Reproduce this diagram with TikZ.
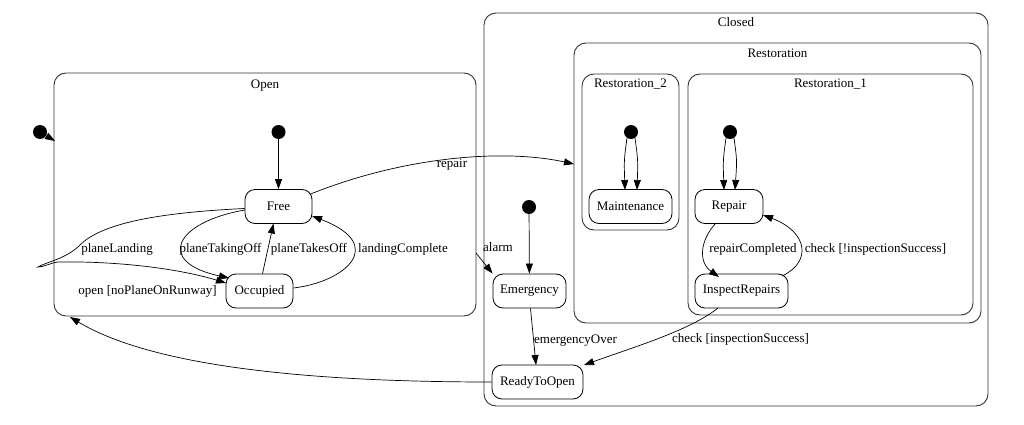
\documentclass[tikz,border=0pt]{standalone}
\usepackage{fontspec}
\setmainfont{Liberation Serif}
\usetikzlibrary{arrows.meta}
\begin{document}
\begin{tikzpicture}[x=1pt,y=-1pt,
  font=\fontsize{13}{15}\selectfont,
  state/.style={draw, rounded corners=10pt, minimum height=34pt, inner sep=0pt, line width=0.8pt},
  cluster/.style={draw, black!80, rounded corners=12pt, line width=0.9pt, inner sep=0pt},
  initdot/.style={circle, fill, inner sep=0pt, minimum size=14pt},
  lbl/.style={inner sep=0pt, text height=9pt, text depth=3pt},
  arr/.style={-{Triangle[length=10pt,width=7pt]}, line width=0.7pt}]
\useasboundingbox (0,0) rectangle (1024,425);

% clusters
\node[cluster, minimum width=422pt, minimum height=243pt] (open) at (265,194.5) {};
\node[cluster, minimum width=504pt, minimum height=393pt] (closed) at (736,209.5) {};
\node[cluster, minimum width=407pt, minimum height=280pt] (restoration) at (777.5,183) {};
\node[cluster, minimum width=97pt, minimum height=156pt] (rtwo) at (630.5,152) {};
\node[cluster, minimum width=285pt, minimum height=241pt] (rone) at (830.5,194.5) {};

\node[lbl] (openT) at (265,86) {Open};
\node[lbl] (closedT) at (736,24) {Closed};
\node[lbl] (restT) at (777.5,55) {Restoration};
\node[lbl] (rtwoT) at (630.5,85) {Restoration\_2};
\node[lbl] (roneT) at (830.5,85) {Restoration\_1};

% initial dots
\node[initdot] (init0) at (40,132) {};
\node[initdot] (initOpen) at (278.5,132) {};
\node[initdot] (initClosed) at (529,207) {};
\node[initdot] (initR2) at (631,132) {};
\node[initdot] (initR1) at (730,132) {};

% states
\node[state, minimum width=67pt] (free) at (278.5,206.5) {Free};
\node[state, minimum width=67pt] (occupied) at (259.5,291) {Occupied};
\node[state, minimum width=73pt] (emergency) at (529.5,291) {Emergency};
\node[state, minimum width=91pt] (ready) at (537.5,382) {ReadyToOpen};
\node[state, minimum width=83pt] (maint) at (630.5,206.5) {Maintenance};
\node[state, minimum width=68pt] (repair) at (729,206.5) {Repair};
\node[state, minimum width=93pt] (inspect) at (741.5,291) {InspectRepairs};

% cluster boundary points
\coordinate (openEntry) at (55,141);
\coordinate (openReturn) at (70,317);
\coordinate (alarmStart) at (476,253);
\coordinate (restEntry) at (574,164);

% edges
\draw[arr] (init0) -- (openEntry);
\draw[arr] (initOpen) -- (free);
\draw[arr] (free.west) ++(0,2) .. controls (150,213) and (100,225) .. (80,245)
   .. controls (66,259) and (46,262) .. (38,267)
   .. controls (44,267) and (50,263) .. (58,262)
   .. controls (120,261) and (180,269) .. (226,283);
\draw[arr] (245,210) .. controls (175,222) and (155,262) .. (229,278);
\draw[arr] (occupied.north) ++(3,0) -- (273.5,223.5);
\draw[arr] (occupied.east) ++(0,-3) .. controls (345,282) and (388,245) .. (312,216);
\draw[arr] (free.north east) ++(-2,5) .. controls (400,158) and (500,148) .. (restEntry);
\draw[arr] (alarmStart) -- (emergency.north west);
\draw[arr] (initClosed) -- (emergency);
\draw[arr] (emergency.south) ++(1,0) -- (536,365);
\draw[arr] (initR2) ++(-4,6) .. controls (624,160) .. (625,190);
\draw[arr] (initR2) ++(4,6) .. controls (638,160) .. (637,190);
\draw[arr] (initR1) ++(-4,6) .. controls (723,160) .. (724,190);
\draw[arr] (initR1) ++(4,6) .. controls (737,160) .. (735,190);
\draw[arr] (716,223) .. controls (700,240) and (698,262) .. (719,277);
\draw[arr] (782,276) .. controls (812,262) and (808,232) .. (763,215);
\draw[arr] (718,308) .. controls (690,330) and (640,345) .. (584,365);
\draw[arr] (ready.west) .. controls (300,382) and (150,365) .. (openReturn);

% labels
\node[lbl] (lLanding) at (117,249) {planeLanding};
\node[lbl] (lTaking) at (220.5,249) {planeTakingOff};
\node[lbl] (lTakes) at (309,249) {planeTakesOff};
\node[lbl] (lComplete) at (403,249) {landingComplete};
\node[lbl] (lOpen) at (147.5,291) {open [noPlaneOnRunway]};
\node[lbl] (lRepair) at (452,164) {repair};
\node[lbl] (lAlarm) at (498,248) {alarm};
\node[lbl] (lEmerg) at (575.5,340) {emergencyOver};
\node[lbl] (lRepC) at (753,249) {repairCompleted};
\node[lbl] (lChkNot) at (875.5,249) {check [!inspectionSuccess]};
\node[lbl] (lChk) at (740.5,339) {check [inspectionSuccess]};
\end{tikzpicture}
\end{document}
